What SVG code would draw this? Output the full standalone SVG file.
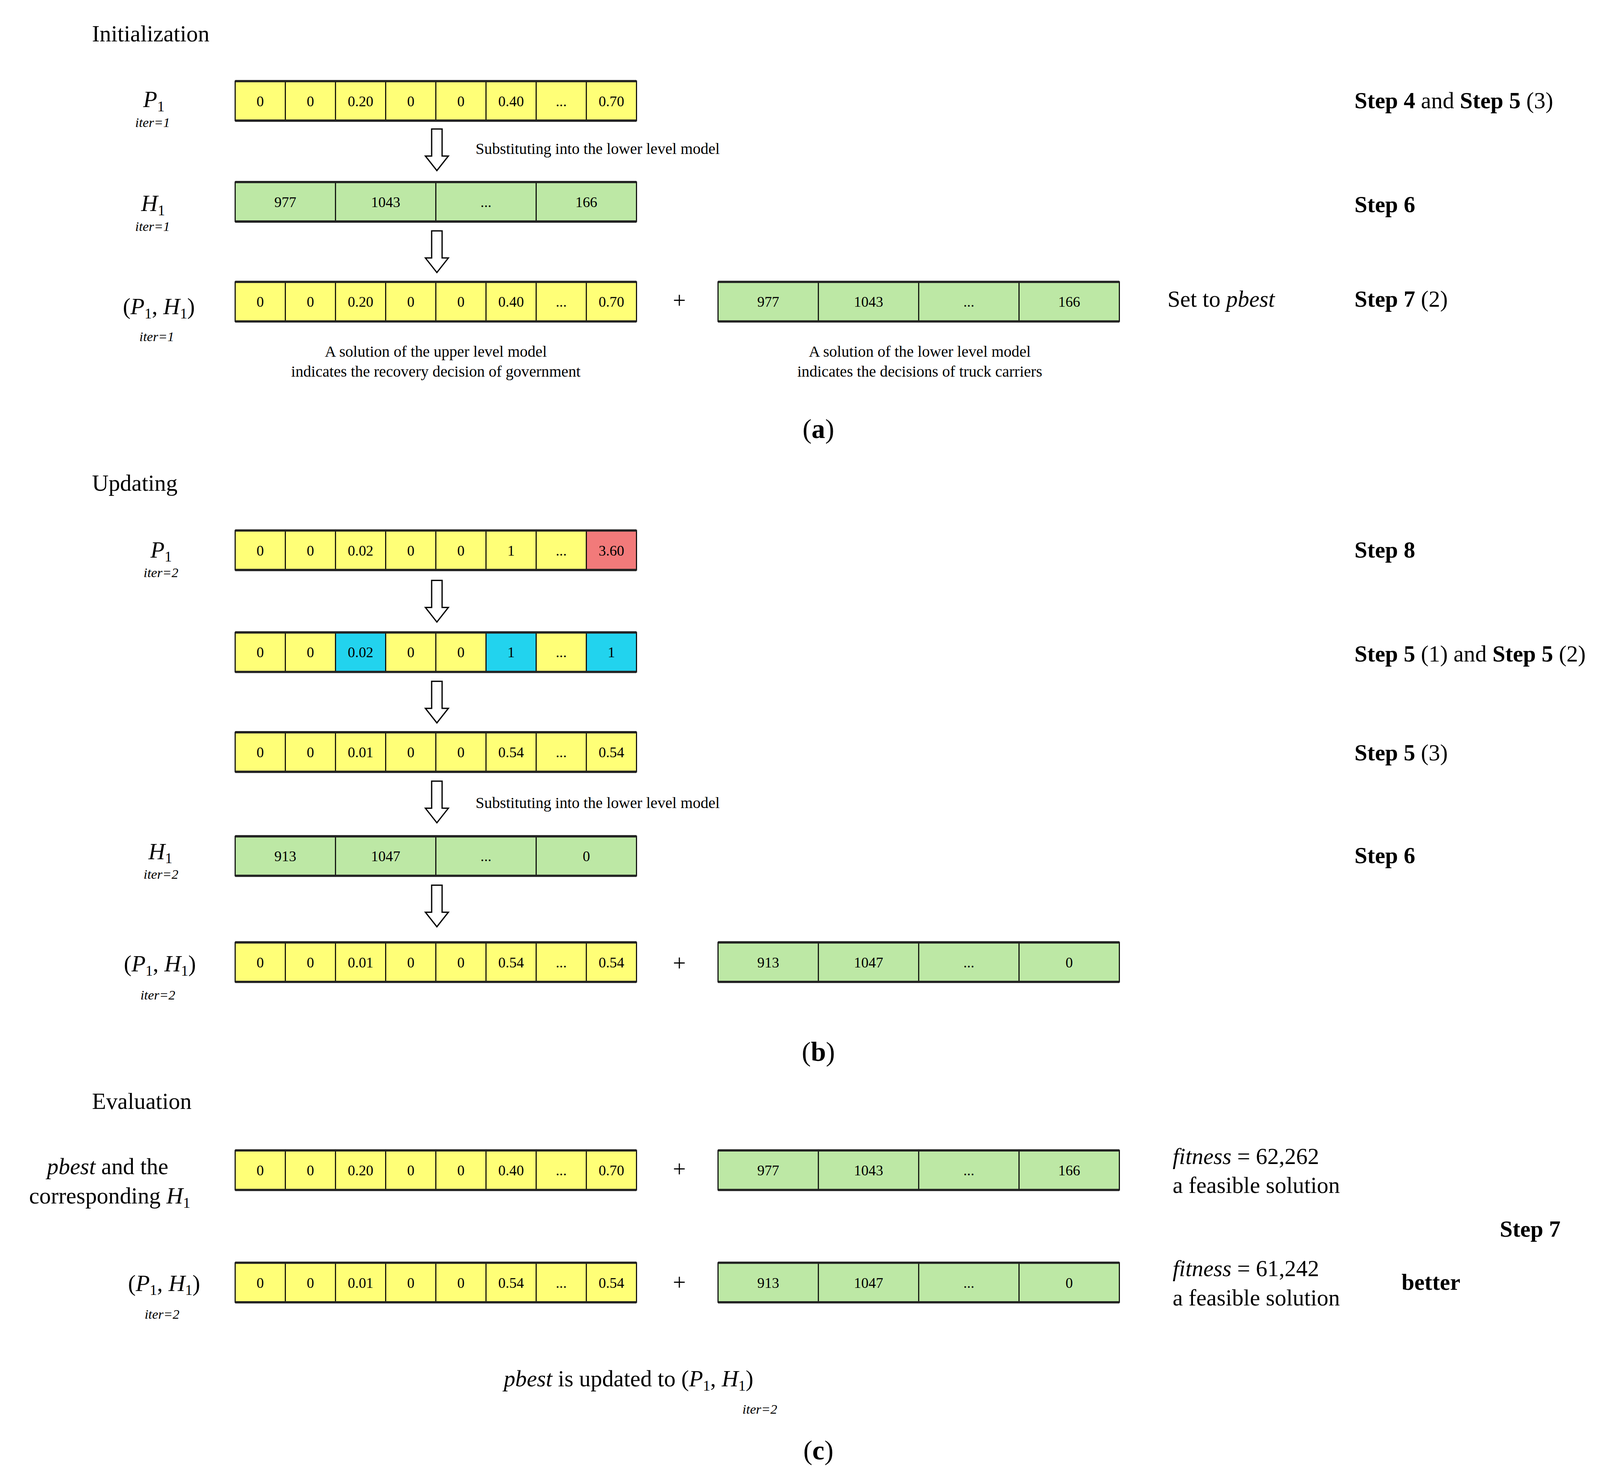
<svg xmlns="http://www.w3.org/2000/svg" width="4174" height="3780" viewBox="0 0 4174 3780">
<style>
text{font-family:"Liberation Serif","DejaVu Serif",serif;fill:#000}
.c{font-size:14px;text-anchor:middle}
.h{font-size:22px}
.s{font-size:22px}
.b{font-weight:bold}
.i{font-style:italic}
.it{font-size:13px;font-style:italic;text-anchor:middle}
.lb{font-size:15px}
.y{fill:#FFFF77}
.g{fill:#BDE8A5}
.r{fill:#F27A7A}
.k{fill:#22D3EE}
.fr{fill:none;stroke:#000;stroke-width:1}
.tb{stroke:#222;stroke-width:2.2}
.v{stroke:#000;stroke-width:1}
.ar{fill:#fff;stroke:#000;stroke-width:1.2}
</style>
<defs>
<g id="yl">
<line class="v" x1="273" y1="0" x2="273" y2="38"/><line class="v" x1="321" y1="0" x2="321" y2="38"/><line class="v" x1="369" y1="0" x2="369" y2="38"/><line class="v" x1="417" y1="0" x2="417" y2="38"/><line class="v" x1="465" y1="0" x2="465" y2="38"/><line class="v" x1="513" y1="0" x2="513" y2="38"/><line class="v" x1="561" y1="0" x2="561" y2="38"/>
<rect class="fr" x="225" y="0" width="384" height="38"/>
<line class="tb" x1="225" y1="0" x2="609" y2="0"/><line class="tb" x1="225" y1="38" x2="609" y2="38"/>
</g>
<g id="gl">
<line class="v" x1="96" y1="0" x2="96" y2="38"/><line class="v" x1="192" y1="0" x2="192" y2="38"/><line class="v" x1="288" y1="0" x2="288" y2="38"/>
<rect class="fr" x="0" y="0" width="384" height="38"/>
<line class="tb" x1="0" y1="0" x2="384" y2="0"/><line class="tb" x1="0" y1="38" x2="384" y2="38"/>
</g>
<path id="arw" class="ar" d="M413,0 L423,0 L423,26 L429,26 L418,40 L407,26 L413,26 Z"/>
</defs>
<rect width="4174" height="3780" fill="#fff"/>
<g transform="scale(2.6756,2.662)">
<g id="labels">
<text class="h" x="88" y="40">Initialization</text>
<text class="h" x="88" y="472">Updating</text>
<text class="h" x="88" y="1066">Evaluation</text>
<text class="s" x="1296" y="104"><tspan class="b">Step 4</tspan> and <tspan class="b">Step 5</tspan> (3)</text>
<text class="s b" x="1296" y="204">Step 6</text>
<text class="s" x="1296" y="295"><tspan class="b">Step 7</tspan> (2)</text>
<text class="s" x="1117" y="295">Set to <tspan class="i">pbest</tspan></text>
<text class="s b" x="1296" y="536">Step 8</text>
<text class="s" x="1296" y="636"><tspan class="b">Step 5</tspan> (1) and <tspan class="b">Step 5</tspan> (2)</text>
<text class="s" x="1296" y="731"><tspan class="b">Step 5</tspan> (3)</text>
<text class="s b" x="1296" y="830">Step 6</text>
<text class="s b" x="1435" y="1189">Step 7</text>
<text class="s b" x="1341" y="1240">better</text>
<text class="s" x="1122" y="1119"><tspan class="i">fitness</tspan> = 62,262</text>
<text class="s" x="1122" y="1147">a feasible solution</text>
<text class="s" x="1122" y="1227"><tspan class="i">fitness</tspan> = 61,242</text>
<text class="s" x="1122" y="1255">a feasible solution</text>
<text class="lb" x="455" y="148">Substituting into the lower level model</text>
<text class="lb" x="455" y="777">Substituting into the lower level model</text>
<text class="lb" x="417" y="343" text-anchor="middle">A solution of the upper level model</text>
<text class="lb" x="417" y="362" text-anchor="middle">indicates the recovery decision of government</text>
<text class="lb" x="880" y="343" text-anchor="middle">A solution of the lower level model</text>
<text class="lb" x="880" y="362" text-anchor="middle">indicates the decisions of truck carriers</text>
<text class="s b" x="783" y="421" text-anchor="middle" style="font-size:26px"><tspan style="font-weight:normal">(</tspan>a<tspan style="font-weight:normal">)</tspan></text>
<text class="s b" x="783" y="1020" text-anchor="middle" style="font-size:26px"><tspan style="font-weight:normal">(</tspan>b<tspan style="font-weight:normal">)</tspan></text>
<text class="s b" x="783" y="1403" text-anchor="middle" style="font-size:26px"><tspan style="font-weight:normal">(</tspan>c<tspan style="font-weight:normal">)</tspan></text>
<text class="s i" x="137" y="103">P<tspan font-size="14" dy="4" font-style="normal">1</tspan></text>
<text class="it" x="146" y="122">iter=1</text>
<text class="s i" x="135" y="203">H<tspan font-size="14" dy="4" font-style="normal">1</tspan></text>
<text class="it" x="146" y="222">iter=1</text>
<text class="s" x="152" y="302" text-anchor="middle">(<tspan class="i">P</tspan><tspan font-size="14" dy="4">1</tspan><tspan dy="-4">, </tspan><tspan class="i">H</tspan><tspan font-size="14" dy="4">1</tspan><tspan dy="-4">)</tspan></text>
<text class="it" x="150" y="328">iter=1</text>
<text class="s i" x="144" y="536">P<tspan font-size="14" dy="4" font-style="normal">1</tspan></text>
<text class="it" x="154" y="555">iter=2</text>
<text class="s i" x="142" y="826">H<tspan font-size="14" dy="4" font-style="normal">1</tspan></text>
<text class="it" x="154" y="845">iter=2</text>
<text class="s" x="153" y="934" text-anchor="middle">(<tspan class="i">P</tspan><tspan font-size="14" dy="4">1</tspan><tspan dy="-4">, </tspan><tspan class="i">H</tspan><tspan font-size="14" dy="4">1</tspan><tspan dy="-4">)</tspan></text>
<text class="it" x="151" y="961">iter=2</text>
<text class="s" x="103" y="1129" text-anchor="middle"><tspan class="i">pbest</tspan> and the</text>
<text class="s" x="105" y="1157" text-anchor="middle">corresponding <tspan class="i">H</tspan><tspan font-size="14" dy="4">1</tspan></text>
<text class="s" x="157" y="1241" text-anchor="middle">(<tspan class="i">P</tspan><tspan font-size="14" dy="4">1</tspan><tspan dy="-4">, </tspan><tspan class="i">H</tspan><tspan font-size="14" dy="4">1</tspan><tspan dy="-4">)</tspan></text>
<text class="it" x="155" y="1268">iter=2</text>
<text class="s" x="482" y="1333"><tspan class="i">pbest</tspan> is updated to  (<tspan class="i">P</tspan><tspan font-size="14" dy="4">1</tspan><tspan dy="-4">, </tspan><tspan class="i">H</tspan><tspan font-size="14" dy="4">1</tspan><tspan dy="-4">)</tspan></text>
<text class="it" x="727" y="1359">iter=2</text>
<text class="s" x="650" y="296" text-anchor="middle">+</text>
<text class="s" x="650" y="933" text-anchor="middle">+</text>
<text class="s" x="650" y="1131" text-anchor="middle">+</text>
<text class="s" x="650" y="1240" text-anchor="middle">+</text>
</g>
<g id="connectors">
<use href="#arw" y="124"/>
<use href="#arw" y="222"/>
<use href="#arw" y="558"/>
<use href="#arw" y="655"/>
<use href="#arw" y="751"/>
<use href="#arw" y="851"/>
</g>
<g id="a-p1" transform="translate(0,78)">
<rect class="y" x="225" y="0" width="384" height="38"/><use href="#yl"/>
<text class="c" x="249" y="24">0</text><text class="c" x="297" y="24">0</text><text class="c" x="345" y="24">0.20</text><text class="c" x="393" y="24">0</text><text class="c" x="441" y="24">0</text><text class="c" x="489" y="24">0.40</text><text class="c" x="537" y="24">...</text><text class="c" x="585" y="24">0.70</text>
</g>
<g id="a-h1" transform="translate(225,175)">
<rect class="g" x="0" y="0" width="384" height="38"/><use href="#gl"/>
<text class="c" x="48" y="24">977</text><text class="c" x="144" y="24">1043</text><text class="c" x="240" y="24">...</text><text class="c" x="336" y="24">166</text>
</g>
<g id="a-p1h1" transform="translate(0,271)">
<rect class="y" x="225" y="0" width="384" height="38"/><use href="#yl"/>
<text class="c" x="249" y="24">0</text><text class="c" x="297" y="24">0</text><text class="c" x="345" y="24">0.20</text><text class="c" x="393" y="24">0</text><text class="c" x="441" y="24">0</text><text class="c" x="489" y="24">0.40</text><text class="c" x="537" y="24">...</text><text class="c" x="585" y="24">0.70</text>
</g>
<g id="a-h1r" transform="translate(687,271)">
<rect class="g" x="0" y="0" width="384" height="38"/><use href="#gl"/>
<text class="c" x="48" y="24">977</text><text class="c" x="144" y="24">1043</text><text class="c" x="240" y="24">...</text><text class="c" x="336" y="24">166</text>
</g>
<g id="b-p1" transform="translate(0,510)">
<rect class="y" x="225" y="0" width="384" height="38"/><rect class="r" x="561" y="0" width="48" height="38"/><use href="#yl"/>
<text class="c" x="249" y="24">0</text><text class="c" x="297" y="24">0</text><text class="c" x="345" y="24">0.02</text><text class="c" x="393" y="24">0</text><text class="c" x="441" y="24">0</text><text class="c" x="489" y="24">1</text><text class="c" x="537" y="24">...</text><text class="c" x="585" y="24">3.60</text>
</g>
<g id="b-clip" transform="translate(0,608)">
<rect class="y" x="225" y="0" width="384" height="38"/><rect class="k" x="321" y="0" width="48" height="38"/><rect class="k" x="465" y="0" width="48" height="38"/><rect class="k" x="561" y="0" width="48" height="38"/><use href="#yl"/>
<text class="c" x="249" y="24">0</text><text class="c" x="297" y="24">0</text><text class="c" x="345" y="24">0.02</text><text class="c" x="393" y="24">0</text><text class="c" x="441" y="24">0</text><text class="c" x="489" y="24">1</text><text class="c" x="537" y="24">...</text><text class="c" x="585" y="24">1</text>
</g>
<g id="b-norm" transform="translate(0,704)">
<rect class="y" x="225" y="0" width="384" height="38"/><use href="#yl"/>
<text class="c" x="249" y="24">0</text><text class="c" x="297" y="24">0</text><text class="c" x="345" y="24">0.01</text><text class="c" x="393" y="24">0</text><text class="c" x="441" y="24">0</text><text class="c" x="489" y="24">0.54</text><text class="c" x="537" y="24">...</text><text class="c" x="585" y="24">0.54</text>
</g>
<g id="b-h1" transform="translate(225,804)">
<rect class="g" x="0" y="0" width="384" height="38"/><use href="#gl"/>
<text class="c" x="48" y="24">913</text><text class="c" x="144" y="24">1047</text><text class="c" x="240" y="24">...</text><text class="c" x="336" y="24">0</text>
</g>
<g id="b-p1h1" transform="translate(0,906)">
<rect class="y" x="225" y="0" width="384" height="38"/><use href="#yl"/>
<text class="c" x="249" y="24">0</text><text class="c" x="297" y="24">0</text><text class="c" x="345" y="24">0.01</text><text class="c" x="393" y="24">0</text><text class="c" x="441" y="24">0</text><text class="c" x="489" y="24">0.54</text><text class="c" x="537" y="24">...</text><text class="c" x="585" y="24">0.54</text>
</g>
<g id="b-h1r" transform="translate(687,906)">
<rect class="g" x="0" y="0" width="384" height="38"/><use href="#gl"/>
<text class="c" x="48" y="24">913</text><text class="c" x="144" y="24">1047</text><text class="c" x="240" y="24">...</text><text class="c" x="336" y="24">0</text>
</g>
<g id="c-pbest" transform="translate(0,1106)">
<rect class="y" x="225" y="0" width="384" height="38"/><use href="#yl"/>
<text class="c" x="249" y="24">0</text><text class="c" x="297" y="24">0</text><text class="c" x="345" y="24">0.20</text><text class="c" x="393" y="24">0</text><text class="c" x="441" y="24">0</text><text class="c" x="489" y="24">0.40</text><text class="c" x="537" y="24">...</text><text class="c" x="585" y="24">0.70</text>
</g>
<g id="c-pbest-h" transform="translate(687,1106)">
<rect class="g" x="0" y="0" width="384" height="38"/><use href="#gl"/>
<text class="c" x="48" y="24">977</text><text class="c" x="144" y="24">1043</text><text class="c" x="240" y="24">...</text><text class="c" x="336" y="24">166</text>
</g>
<g id="c-p1" transform="translate(0,1214)">
<rect class="y" x="225" y="0" width="384" height="38"/><use href="#yl"/>
<text class="c" x="249" y="24">0</text><text class="c" x="297" y="24">0</text><text class="c" x="345" y="24">0.01</text><text class="c" x="393" y="24">0</text><text class="c" x="441" y="24">0</text><text class="c" x="489" y="24">0.54</text><text class="c" x="537" y="24">...</text><text class="c" x="585" y="24">0.54</text>
</g>
<g id="c-h1" transform="translate(687,1214)">
<rect class="g" x="0" y="0" width="384" height="38"/><use href="#gl"/>
<text class="c" x="48" y="24">913</text><text class="c" x="144" y="24">1047</text><text class="c" x="240" y="24">...</text><text class="c" x="336" y="24">0</text>
</g>
</g>
</svg>
